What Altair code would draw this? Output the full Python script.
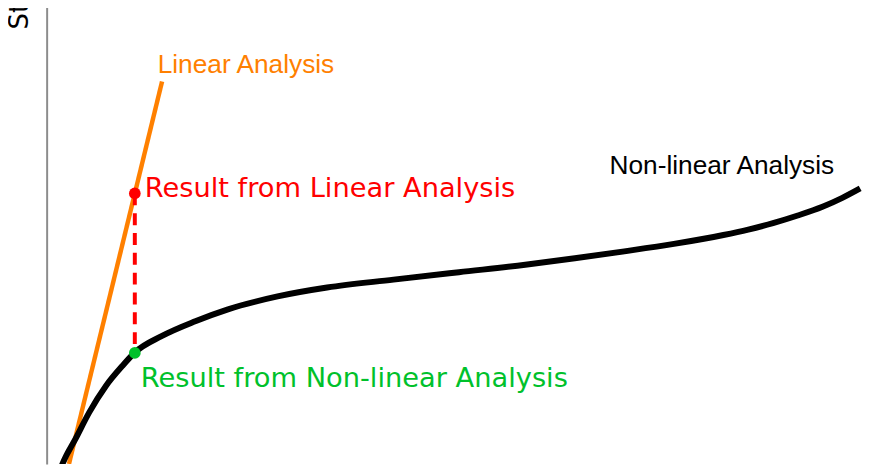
import altair as alt
import pandas as pd

# Non-linear (black) curve: strain vs stress, arbitrary units
nl_strain = [1.72, 1.90, 3.51, 5.11, 7.13, 9.04, 10.58, 13.79, 17.84, 21.76, 27.71, 33.65,
             41.62, 49.47, 57.43, 63.38, 69.32, 75.27, 81.21, 84.19, 87.16, 90.13, 93.10,
             95.48, 97.62]
nl_stress = [-0.86, 0.0, 5.58, 11.16, 16.95, 21.14, 24.14, 27.68, 30.90, 33.48, 36.27, 38.20,
             39.91, 41.52, 43.13, 44.53, 46.03, 47.64, 49.57, 50.75, 52.15, 53.80, 55.69,
             57.62, 59.66]

# Linear (orange) analysis line
lin_strain = [2.68, 13.85]
lin_stress = [0.0, 82.83]

# Results at the same load step
res_strain = [10.58, 10.58]
res_stress = [58.58, 24.03]
res_labels = ["Result from Linear Analysis", "Result from Non-linear Analysis"]
res_colors = ["#ff0000", "#00c12b"]

# Curve names
name_labels = ["Linear Analysis", "Non-linear Analysis"]
name_strain = [13.32, 67.54]
name_stress = [84.55, 62.88]
name_colors = ["#ff8000", "#000000"]

nl_df = pd.DataFrame({"strain": nl_strain, "stress": nl_stress})
lin_df = pd.DataFrame({"strain": lin_strain, "stress": lin_stress})
res_df = pd.DataFrame({"strain": res_strain, "stress": res_stress,
                       "label": res_labels, "color": res_colors})
name_df = pd.DataFrame({"strain": name_strain, "stress": name_stress,
                        "label": name_labels, "color": name_colors})

xs = alt.Scale(domain=[0, 100], nice=False, zero=False)
ys = alt.Scale(domain=[0, 100], nice=False, zero=False)

X = alt.X("strain:Q", scale=xs, axis=None)
Y = alt.Y("stress:Q", scale=ys,
          axis=alt.Axis(title="Stress", labels=False, ticks=False, grid=False,
                        domainColor="#8c8c8c", domainWidth=2,
                        titleFont="DejaVu Sans", titleFontSize=26, titleFontWeight="normal",
                        titleColor="#000000", titleAngle=270, titleAlign="left",
                        titleBaseline="alphabetic", titleX=-19, titleY=27))

axis_layer = alt.Chart(nl_df).mark_point(opacity=0).encode(x=X, y=Y)

black = alt.Chart(nl_df).mark_line(color="#000000", strokeWidth=6, interpolate="monotone",
                                   clip=True).encode(x=X, y=Y)

orange = alt.Chart(lin_df).mark_line(color="#ff8000", strokeWidth=4.5, clip=True).encode(x=X, y=Y)

dash = alt.Chart(res_df).mark_line(color="#ff0000", strokeWidth=4, strokeDash=[12, 8]).encode(
    x=X, y=Y)

points = alt.Chart(res_df).mark_point(filled=True, opacity=1, size=140, shape="circle").encode(
    x=X, y=Y, color=alt.Color("color:N", scale=None))

lin_res_text = alt.Chart(res_df).transform_filter(
    alt.datum.label == res_labels[0]
).mark_text(align="left", baseline="alphabetic", dx=10, dy=4,
            font="DejaVu Sans", fontSize=27.5).encode(
    x=X, y=Y, text="label:N", color=alt.Color("color:N", scale=None))

nl_res_text = alt.Chart(res_df).transform_filter(
    alt.datum.label == res_labels[1]
).mark_text(align="left", baseline="alphabetic", dx=6, dy=34,
            font="DejaVu Sans", fontSize=27.5).encode(
    x=X, y=Y, text="label:N", color=alt.Color("color:N", scale=None))

name_text = alt.Chart(name_df).mark_text(align="left", baseline="alphabetic",
                                         font="Liberation Sans", fontSize=26.5).encode(
    x=X, y=Y, text="label:N", color=alt.Color("color:N", scale=None))

chart = alt.layer(axis_layer, orange, black, dash, points, lin_res_text, nl_res_text,
                  name_text).properties(
    width=841, height=466,
    autosize=alt.AutoSizeParams(type="none"),
    padding={"left": 39, "top": -8, "right": 0, "bottom": 0},
).configure_view(strokeOpacity=0)

chart.save("out.html", embed_options={"renderer": "svg", "actions": False})
